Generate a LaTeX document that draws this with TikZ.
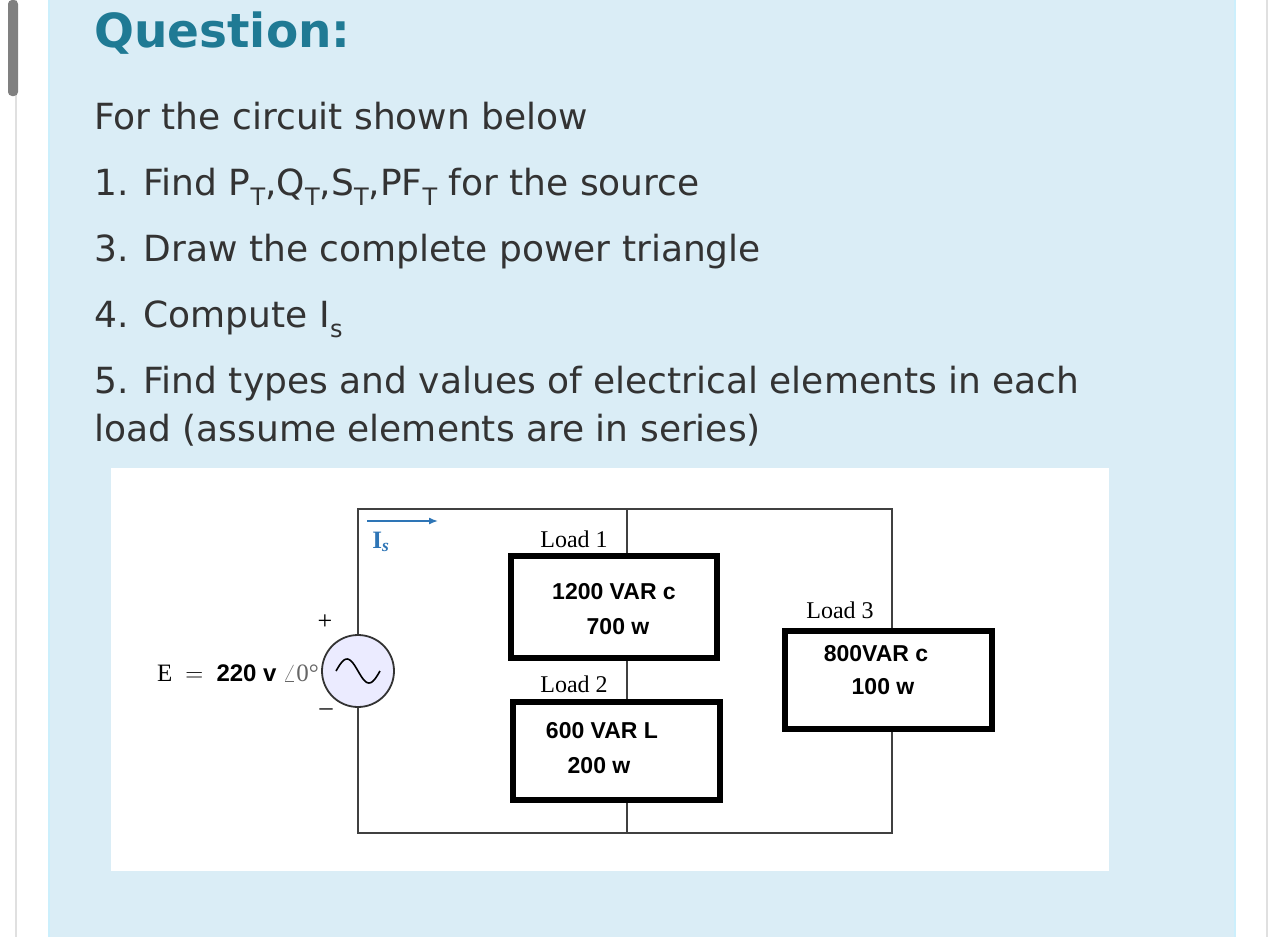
\documentclass[tikz,border=0pt]{standalone}
\usepackage{fontspec}
\usetikzlibrary{calc,arrows.meta}
\setmainfont{DejaVu Sans}
\newfontfamily\arialf{Liberation Sans}
\newfontfamily\timesf{Liberation Serif}
\definecolor{panel}{HTML}{DAEDF6}
\definecolor{teal}{HTML}{1F7A94}
\definecolor{txt}{HTML}{333333}
\definecolor{isblue}{HTML}{2E75B6}
\newcommand{\lowsub}[1]{\raisebox{-0.3em}{\fontsize{24}{26}\selectfont #1}}
\begin{document}
\begin{tikzpicture}[x=1pt,y=-1pt,
  qtext/.style={anchor=base west,inner sep=0,text=txt,font=\fontsize{36}{42}\selectfont},
  loadbox/.style={draw=black,line width=6.5pt,inner sep=0},
  lbl/.style={font=\timesf\fontsize{24}{26}\selectfont,inner sep=0},
  val/.style={font=\arialf\bfseries\fontsize{23}{26}\selectfont,inner sep=0},
  wire/.style={draw=black!75,line width=1.2pt}]
\useasboundingbox (0,0) rectangle (1284,937);
\fill[white] (0,0) rectangle (1284,937);
\fill[panel] (48,0) rectangle (1236,937);
\draw[cyan!20,line width=2pt] (49,0) -- (49,937);
\draw[cyan!20,line width=2pt] (1235,0) -- (1235,937);
\draw[black!12,line width=1.5pt] (16,0) -- (16,937);
\draw[black!12,line width=1.5pt] (1267,0) -- (1267,937);
\fill[black!50,rounded corners=4pt] (8,0) rectangle (18,96);
\node[anchor=base west,inner sep=0,text=teal,font=\bfseries\fontsize{47}{52}\selectfont] (title) at (94,47) {Question:};
\node[qtext] (l1) at (94,129) {For the circuit shown below};
\node[qtext] (l2) at (94,195) {1. Find P\lowsub{T},Q\lowsub{T},S\lowsub{T},PF\lowsub{T} for the source};
\node[qtext] (l3) at (94,261) {3. Draw the complete power triangle};
\node[qtext] (l4) at (94,327) {4. Compute I\lowsub{s}};
\node[qtext] (l5) at (94,393) {5. Find types and values of electrical elements in each};
\node[qtext] (l6) at (94,441) {load (assume elements are in series)};
\fill[white] (111,468) rectangle (1109,871);
% circuit
\coordinate (tl) at (358,509); \coordinate (tm) at (627,509); \coordinate (tr) at (892,509);
\coordinate (bl) at (358,833); \coordinate (bm) at (627,833); \coordinate (br) at (892,833);
\node[loadbox,minimum width=206pt,minimum height=102pt] (L1) at (614,607) {};
\node[loadbox,minimum width=207pt,minimum height=98pt] (L2) at (616.5,751) {};
\node[loadbox,minimum width=207pt,minimum height=98pt] (L3) at (888.5,680) {};
\node[circle,draw=black!80,line width=1.8pt,fill=blue!8,minimum size=72pt,inner sep=0] (src) at (358,671) {};
\begin{scope}[shift={(src.center)}]
\draw[line width=1.6pt,smooth] plot[domain=-22:22,samples=40] (\x,{12*sin(\x*360/44)});
\end{scope}
\draw[wire] (src.north) -- (tl) -- (tr) -- (L3.north -| tr);
\draw[wire] (src.south) -- (bl) -- (br) -- (L3.south -| br);
\draw[wire] (tm) -- (L1.north -| tm);
\draw[wire] (L1.south -| tm) -- (L2.north -| tm);
\draw[wire] (L2.south -| tm) -- (bm);
\coordinate (a1) at (367,521); \coordinate (a2) at (438,521);
\draw[isblue,line width=1.5pt,-{Latex[length=9pt,width=7pt]}] (a1) -- (a2);
\node[font=\timesf\bfseries\fontsize{25}{26}\selectfont,text=isblue,inner sep=0] (is) at (381,542) {I\textsubscript{\textit{s}}};
\node[lbl] (t1) at (574,539) {Load 1};
\node[lbl] (t2) at (574,684) {Load 2};
\node[lbl] (t3) at (840,610) {Load 3};
\node[val] (v1a) at (614,592) {1200 VAR c};
\node[val] (v1b) at (618,627) {700 w};
\node[val] (v2a) at (602,731) {600 VAR L};
\node[val] (v2b) at (599,766) {200 w};
\node[val] (v3a) at (876,654) {800VAR c};
\node[val] (v3b) at (883,687) {100 w};
\node[font=\timesf\fontsize{26}{28}\selectfont,inner sep=0] (plus) at (325,622) {+};
\node[font=\timesf\fontsize{26}{28}\selectfont,inner sep=0] (minus) at (326,712) {\textendash};
\node[anchor=east,inner sep=0] (E) at (319,673) {\timesf\fontsize{25}{28}\selectfont E ${}={}$ {\arialf\bfseries\fontsize{24}{28}\selectfont 220 v} {\color{black!60}$\angle$0°}};
\end{tikzpicture}
\end{document}
